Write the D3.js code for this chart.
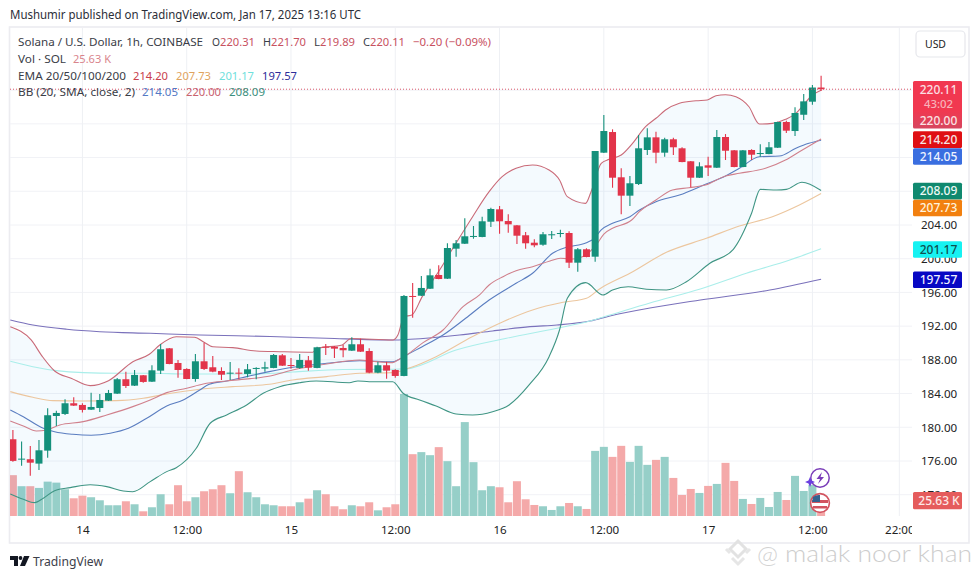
<!DOCTYPE html>
<html>
<head>
<meta charset="utf-8">
<script src="https://cdn.jsdelivr.net/npm/d3@7/dist/d3.min.js"></script>
<style>
html,body{margin:0;padding:0;background:#fff;overflow:hidden}
svg{display:block}
text{font-family:"Noto Sans",sans-serif}
</style>
</head>
<body>
<svg id="c" width="980" height="579"></svg>
<script>
// ---------- data ----------
const opens = [178.58,176.16,176.21,175.69,177.23,181.34,181.58,182.85,182.65,182.09,
182.29,183.16,183.99,185.70,184.94,186.17,185.41,186.72,189.37,187.63,
186.92,185.73,187.83,187.12,186.68,186.41,186.48,186.33,186.96,186.96,
187.04,188.54,187.39,187.04,187.95,187.04,189.56,189.56,189.41,189.09,
189.85,189.05,186.48,187.36,186.80,186.09,195.58,195.61,196.44,198.07,
197.63,201.19,201.78,202.58,202.58,204.39,205.86,204.47,203.96,202.78,
201.90,201.66,202.81,202.97,203.05,199.53,201.12,200.24,212.58,215.03,
209.66,207.48,208.86,212.90,214.40,212.58,214.17,213.10,211.56,209.61,
211.08,210.80,214.44,212.86,210.88,212.90,212.46,212.42,213.17,216.22,
215.15,217.08,218.63,220.31];
const highs = [179.68,178.30,177.78,178.50,182.26,181.97,183.32,183.56,182.85,184.11,
183.95,184.43,185.85,186.60,186.80,186.21,187.36,189.88,189.41,187.99,
187.00,188.70,190.04,188.46,187.12,187.75,187.00,187.51,187.12,187.78,
188.70,188.70,188.22,188.70,188.46,189.56,189.88,189.65,189.80,190.68,
190.51,189.37,187.78,187.78,186.88,195.70,197.12,197.95,198.82,199.22,
201.83,202.22,204.79,203.88,204.98,206.05,206.25,205.27,204.00,203.17,
202.30,203.17,203.29,203.44,203.25,201.27,201.24,212.78,217.05,215.35,
210.73,209.81,214.68,215.47,215.07,214.36,214.36,213.22,211.59,211.44,
212.10,215.27,214.79,212.90,212.90,212.98,213.57,213.85,216.25,216.37,
217.96,219.54,220.61,221.70];
const lows = [175.90,175.45,174.26,174.94,176.40,180.16,181.46,182.53,181.74,182.06,
181.82,183.12,183.95,184.66,184.90,185.29,185.38,186.33,187.48,185.89,
185.70,185.41,186.80,186.53,185.61,185.61,185.70,185.93,185.70,186.60,
187.00,187.27,186.95,186.95,186.72,187.00,188.58,188.22,188.31,189.05,
188.94,186.41,186.41,185.77,185.89,186.05,193.00,195.58,196.41,197.56,
197.59,200.24,201.75,202.37,202.54,203.76,202.97,203.09,201.75,201.19,
201.35,201.54,202.34,202.54,198.90,198.46,200.17,199.65,212.54,208.42,
205.27,206.25,208.74,212.30,211.32,212.10,212.30,211.44,208.47,209.57,
209.81,210.76,211.71,210.84,210.84,211.71,212.10,212.39,213.13,214.91,
214.56,216.46,218.27,219.89];
const closes = [176.01,176.28,175.80,177.27,181.43,181.70,182.85,182.57,182.06,182.41,
183.24,184.07,185.70,184.90,186.21,185.38,186.76,189.26,187.51,186.80,
185.73,187.83,186.92,186.60,186.24,186.48,186.41,186.88,187.04,187.12,
188.58,187.31,187.27,187.99,187.07,189.49,189.45,189.33,189.14,189.85,
188.97,186.48,187.36,186.72,186.09,195.58,195.50,196.53,198.03,197.59,
201.27,201.83,202.66,202.70,204.44,205.90,204.44,204.08,202.73,201.83,
201.59,202.90,202.90,203.05,199.53,201.12,200.20,212.78,215.15,209.61,
207.48,208.95,213.10,214.40,212.58,214.17,213.22,211.47,209.61,210.96,
210.80,214.44,212.81,210.88,212.86,212.34,212.54,213.22,216.22,215.19,
217.29,218.67,220.31,220.11];
const volumes = [69.6,50.8,50.8,47.9,58.6,56.9,45.6,30.2,34.7,32.0,
26.8,18.3,18.3,25.1,20.0,8.0,14.9,37.1,20.0,52.5,
25.1,32.0,42.2,45.6,52.5,38.8,76.4,40.5,32.0,20.0,
18.3,16.6,16.6,23.4,29.6,43.9,37.1,16.6,11.5,18.3,
16.6,23.4,9.7,14.9,20.0,208.0,105.4,108.9,103.7,117.4,
93.5,50.8,160.1,91.8,43.9,50.8,49.0,23.4,59.3,28.5,
18.8,16.6,10.3,16.6,22.2,16.6,12.0,111.0,117.9,100.8,
119.6,92.3,119.6,87.2,95.7,100.8,64.9,35.9,46.1,39.3,
51.3,54.7,90.6,59.8,29.1,20.5,30.8,15.4,41.0,27.3,
68.4,42.7,53.0,25.63];

// line series: [bar number, value]
const bbUpper = [[-0.3,191.94],[2.1,190.36],[3.4,188.38],[4.8,186.68],[6.7,185.82],[8.9,184.94],[11,185.53],[13.8,187.78],[15.7,188.66],[16.9,189.77],[18.8,190.75],[20.9,190.68],[22,190.09],[23,189.56],[25.3,189.45],[28,189.05],[30.7,188.97],[34.5,188.90],[35,189.37],[37.9,189.77],[38.9,190.54],[43.7,190.36],[44.3,190.95],[45,193.12],[45.9,193.32],[47.1,195.50],[49.1,198.66],[51,201.86],[52.9,204.98],[54.8,207.95],[56.3,209.73],[57.9,210.73],[59.8,211.12],[61.7,210.52],[62.9,209.34],[63.8,207.36],[65.9,206.57],[66.5,207.86],[67.7,211.32],[68.6,211.79],[70,212.30],[71.3,213.69],[72.8,215.66],[74,216.66],[75.1,217.64],[76.7,218.44],[78.6,218.74],[79.9,218.83],[80.9,219.34],[82,219.46],[83.2,219.22],[84.7,218.03],[85.9,215.98],[87.4,216.06],[88.9,216.54],[90.1,217.25],[90.8,218.03],[92,219.42],[93,220.00]];
const bbBasis = [[-0.3,182.06],[1.2,181.26],[3.5,179.88],[4.8,179.48],[6.9,179.17],[9,179.05],[11.2,179.29],[13.3,179.88],[15.4,181.07],[17.7,182.53],[19.6,183.24],[21.5,184.43],[22.6,185.10],[24.6,185.50],[26.9,186.01],[29.5,186.60],[32.2,187.12],[36.1,187.59],[39.9,187.90],[43.7,187.78],[44.3,187.99],[45.3,188.58],[47.1,189.56],[49.5,190.95],[52.1,192.93],[54.8,195.10],[57.9,197.08],[59.8,198.27],[62.1,200.64],[63.7,201.35],[66,201.90],[66.9,202.42],[67.7,203.41],[69,204.20],[71,204.98],[72.1,205.78],[74,206.76],[76.7,207.56],[79.7,208.83],[82,209.81],[83.6,210.73],[85.9,212.10],[88.2,212.18],[90.1,213.10],[91.6,213.69],[93,214.05]];
const bbLower = [[-0.3,172.09],[1.2,171.46],[2.5,171.06],[3.5,171.58],[4.8,172.48],[6.6,172.84],[8.9,173.19],[10.8,172.96],[12.7,172.45],[13.8,172.36],[15.8,173.55],[17.7,174.74],[18.8,175.21],[21.1,177.51],[22.7,180.48],[24.6,181.46],[26.9,182.65],[28.8,184.04],[30.7,184.82],[33,185.29],[34.9,185.50],[38.7,185.29],[39.7,185.50],[41,185.41],[43.7,185.41],[44.9,184.04],[46.8,183.24],[48.7,182.53],[51,181.58],[52.9,181.46],[55.2,181.85],[57.1,182.65],[59.4,185.02],[61.7,188.38],[62.9,191.54],[63.8,195.31],[65.9,197.16],[67.9,195.70],[69,196.29],[70.8,196.68],[72.9,196.37],[75.2,196.29],[77.5,197.27],[80.2,199.46],[82.9,201.12],[85,205.39],[86,208.23],[87.9,208.15],[89,208.23],[90.8,209.07],[93,208.09]];
const ema20 = [[-0.3,180.75],[1.2,180.16],[2.7,179.56],[3.9,179.68],[5.4,180.28],[8.1,180.67],[10.8,181.46],[13.8,182.45],[15.8,183.24],[17.7,184.11],[20,184.63],[21.9,185.14],[24.6,185.50],[27.3,185.77],[29.6,186.09],[32.2,186.80],[36.1,187.51],[39.9,187.99],[41.4,187.83],[43.7,187.67],[44.3,187.99],[45.3,188.58],[47.2,190.04],[49.5,191.54],[51.8,194.31],[53.7,195.70],[54.8,196.88],[56.4,197.87],[57.9,198.58],[59.8,199.05],[61.8,199.73],[63,200.05],[64.4,199.97],[65.9,200.44],[67.2,201.75],[68,202.93],[69,203.61],[71.2,204.59],[72.1,205.58],[74,206.97],[75.9,208.15],[77.8,208.42],[79.7,208.74],[82,209.81],[83.6,210.13],[86.6,210.73],[88.9,211.71],[90.5,212.69],[93,214.20]];
const ema50 = [[-0.3,184.23],[2.3,183.56],[4.6,183.16],[8.1,183.12],[11.9,183.16],[15,183.44],[17.7,183.95],[21.5,184.51],[25.3,184.82],[29.5,185.10],[32.2,185.61],[36.1,186.01],[39.9,186.41],[43.7,186.48],[45.7,187.06],[48.7,188.38],[52.9,190.77],[56.4,192.53],[59.8,193.92],[63.3,194.83],[66,195.31],[67.5,196.41],[71,198.27],[75.2,200.76],[79.8,202.42],[83.6,203.88],[87.4,204.98],[90.5,206.37],[93,207.73]];
const ema100 = [[-0.3,187.83],[2.3,187.19],[5,186.72],[8.1,186.48],[11.9,186.41],[15.8,186.41],[20,186.33],[28.4,186.33],[32.2,186.56],[38,186.86],[43.7,186.88],[45.3,186.94],[51,189.17],[56.8,190.56],[62.6,191.75],[66.4,192.61],[68.7,193.32],[73.3,194.75],[79.1,196.41],[84.4,198.27],[89.4,199.85],[93,201.17]];
const ema200 = [[-0.3,192.73],[2.3,192.14],[6.2,191.63],[10,191.34],[15.8,191.15],[21.5,190.95],[29.6,190.77],[36.1,190.56],[43.7,190.36],[45.7,190.44],[51.4,190.95],[55.2,191.43],[59.5,191.94],[62.6,192.14],[66.4,192.61],[68.7,193.21],[73.3,194.15],[79.1,195.10],[87.1,196.29],[93,197.57]];

const priceTicks = [172,176,180,184,188,192,196,200,204,208,212,216,220];
const timeTickBars = [8,20,32,44,56,68,80,92,102];
const timeTickLabels = ["14","12:00","15","12:00","16","12:00","17","12:00","22:00"];

const tagValues = [214.20,214.05,208.09,207.73,201.17,197.57];
const tagFills  = ["#df0f13","#3a6ee0","#10896f","#f2800f","#16f2f2","#0808c4"];
const tagInks   = ["#f5e6e6","#eef3ff","#eefaf6","#fff3dd","#10504f","#f0f0ff"];

// ---------- scales ----------
const svg = d3.select("#c");
const x = d3.scaleLinear().domain([0,93]).range([12.9,821.1]);
const y = d3.scaleLinear().domain([176,204]).range([461,225]);
const yVol = d3.scaleLinear().domain([0,208]).range([516,394]);
const UP="#14907b", DOWN="#e2344a", UPV="#96cfc8", DOWNV="#f4a9a9";

const defs = svg.append("defs");
defs.append("clipPath").attr("id","pane").append("rect").attr("x",10).attr("y",28).attr("width",902).attr("height",488);
defs.append("clipPath").attr("id","time").append("rect").attr("x",10).attr("y",516).attr("width",902).attr("height",26);

// frame
svg.append("rect").attr("x",9.5).attr("y",27).attr("width",959.5).attr("height",516)
   .attr("fill","#fff").attr("stroke","#ececf0").attr("stroke-width",1.6);

// grid
const pane = svg.append("g").attr("clip-path","url(#pane)");
pane.append("g").selectAll("line").data(priceTicks).join("line")
  .attr("x1",10).attr("x2",912).attr("y1",d=>y(d)).attr("y2",d=>y(d))
  .attr("stroke","#f1f2f6").attr("stroke-width",1);
pane.append("g").selectAll("line").data(timeTickBars).join("line")
  .attr("x1",d=>x(d)).attr("x2",d=>x(d)).attr("y1",28).attr("y2",516)
  .attr("stroke","#eef0f4").attr("stroke-width",1);

// volume
const bars = d3.range(opens.length);
const isUp = i => closes[i] >= opens[i];
pane.append("g").selectAll("rect").data(bars).join("rect")
  .attr("x",i=>x(i)-4).attr("width",8)
  .attr("y",i=>yVol(volumes[i])).attr("height",i=>yVol(0)-yVol(volumes[i]))
  .attr("fill",i=>isUp(i)?UPV:DOWNV);

// Bollinger fill
const pt = d3.line().x(d=>x(d[0])).y(d=>y(d[1]));
const smooth = d3.line().x(d=>x(d[0])).y(d=>y(d[1])).curve(d3.curveMonotoneX);
pane.append("path")
  .attr("d", pt(bbUpper.concat(bbLower.slice().reverse()))+"Z")
  .attr("fill","#2aa0ee").attr("fill-opacity",0.05);

// lines
[[ema200,"#7a71bb"],[ema100,"#aaeeea"],[ema50,"#ecc69e"],[bbLower,"#3f9584"],[bbBasis,"#5a7dc0"],[ema20,"#d0808c"],[bbUpper,"#c96a78"]]
 .forEach(([s,c])=>{
   pane.append("path").attr("d",smooth(s)).attr("fill","none").attr("stroke",c).attr("stroke-width",1.1);
 });

// candles
const cg = pane.append("g");
cg.selectAll("line").data(bars).join("line")
  .attr("x1",i=>x(i)).attr("x2",i=>x(i))
  .attr("y1",i=>y(highs[i])).attr("y2",i=>y(lows[i]))
  .attr("stroke",i=>isUp(i)?UP:DOWN).attr("stroke-width",1.1);
cg.selectAll("rect").data(bars).join("rect")
  .attr("x",i=>x(i)-3.5).attr("width",7)
  .attr("y",i=>Math.min(y(opens[i]),y(closes[i])))
  .attr("height",i=>Math.max(1,Math.abs(y(opens[i])-y(closes[i]))))
  .attr("fill",i=>isUp(i)?UP:DOWN);

// last price dotted line
const lastClose = closes[closes.length-1];
pane.append("line").attr("x1",10).attr("x2",912).attr("y1",y(lastClose)).attr("y2",y(lastClose))
  .attr("stroke","#d9566a").attr("stroke-width",1).attr("stroke-dasharray","1 2");

// price axis labels
const yAxis = d3.axisRight(y).tickValues(priceTicks.filter(v=>v<=204)).tickSize(0).tickPadding(0).tickFormat(d3.format(".2f"));
const yg = svg.append("g").attr("transform","translate(939,0)").call(yAxis);
yg.select(".domain").remove();
yg.selectAll("text").attr("text-anchor","middle").attr("font-size",11.6).attr("fill","#222")
  .style("font-family",'"Noto Sans",sans-serif');

// time axis
const xAxis = d3.axisBottom(x).tickValues(timeTickBars).tickSize(0).tickPadding(0)
  .tickFormat((d,i)=>timeTickLabels[i]);
const tg = svg.append("g").attr("clip-path","url(#time)").append("g").attr("transform","translate(0,526)").call(xAxis);
tg.select(".domain").remove();
tg.selectAll("text").attr("font-size",11.6).attr("fill","#222")
  .style("font-family",'"Noto Sans",sans-serif');

// helper for fitted text
function T(s,px,py,w,fill,size){
  const t = svg.append("text").attr("x",px).attr("y",py).attr("font-size",size||11.4).attr("fill",fill||"#2a2e39").text(s);
  if(w) t.attr("textLength",w).attr("lengthAdjust","spacingAndGlyphs");
  return t;
}
const INK="#3a3d47", R1="#c8515f";
T("Mushumir published on TradingView.com, Jan 17, 2025 13:16 UTC",10,19,351,"#2b2e38",11.8);
T("Solana / U.S. Dollar, 1h, COINBASE",18,46,185,INK);
T("O",212,46,8,INK); T("220.31",220,46,35,R1);
T("H",263,46,8,INK); T("221.70",271,46,35,R1);
T("L",314,46,6,INK); T("219.89",320,46,35,R1);
T("C",363,46,7,INK); T("220.11",370,46,35,R1);
T("−0.20 (−0.09%)",413,46,78,R1);
T("Vol · SOL",18,63,48,INK); T("25.63 K",73,63,38,"#d9848c");
T("EMA 20/50/100/200",18,80,108,INK);
T("214.20",133,80,35,"#c8404c"); T("207.73",176,80,35,"#dfa35e"); T("201.17",219,80,35,"#6fe0dc"); T("197.57",262,80,35,"#2c2c9a");
T("BB (20, SMA, close, 2)",18,96,117,INK);
T("214.05",142,96,36,"#5479c4"); T("220.00",186,96,35,"#c8626f"); T("208.09",229,96,36,"#3b8f7e");

// USD button
svg.append("rect").attr("x",916).attr("y",31).attr("width",49).attr("height",26).attr("rx",4)
   .attr("fill","#fff").attr("stroke","#e6e7ec").attr("stroke-width",1.2);
T("USD",925,48,21,"#222",11.6);

// right tags
function tag(top,h,bg){svg.append("rect").attr("x",913).attr("y",top).attr("width",49).attr("height",h).attr("rx",1.5).attr("fill",bg);}
function tagText(s,cy,fg,size){
  svg.append("text").attr("x",938.5).attr("y",cy+4.1).attr("text-anchor","middle").attr("font-size",size||12)
    .attr("font-weight",500).attr("fill",fg).text(s);
}
const grad = defs.append("linearGradient").attr("id","tg").attr("x1",0).attr("x2",0).attr("y1",0).attr("y2",1);
grad.append("stop").attr("offset","0.62").attr("stop-color","#f13850");
grad.append("stop").attr("offset","1").attr("stop-color","#d6465f");
tag(81,47.5,"url(#tg)");
tagText(lastClose.toFixed(2),90,"#fbdfe2");
tagText("43:02",103.8,"#f7b3ba",11.4);
tagText(bbUpper[bbUpper.length-1][1].toFixed(2),120.5,"#fbe2e4");
let prevCentre = -Infinity;
tagValues.forEach((v,i)=>{
  const cy = Math.max(y(v)+0.6, prevCentre+16.9);
  prevCentre = cy;
  tag(cy-8.3,16.6,tagFills[i]);
  tagText(v.toFixed(2),cy,tagInks[i]);
});
tag(492,17.3,"#e55c5c");
svg.append("text").attr("x",939).attr("y",505).attr("text-anchor","middle").attr("font-size",12).attr("font-weight",500).attr("fill","#fde9e7").text("25.63 K");

// event icons
const ic = svg.append("g");
ic.append("circle").attr("cx",820).attr("cy",478).attr("r",9.2).attr("fill","#fff").attr("stroke","#7a3db8").attr("stroke-width",1.5);
ic.append("path").attr("d","M822 472 L816.5 479 L820 479 L818 484 L824 477 L820.5 477 Z").attr("fill","#7a3db8");
ic.append("path").attr("d","M810 477 L811.5 480.5 L815 482 L811.5 483.5 L810 487 L808.5 483.5 L805 482 L808.5 480.5 Z").attr("fill","#6a3fe0");
ic.append("circle").attr("cx",820).attr("cy",503).attr("r",9.4).attr("fill","#fff").attr("stroke","#d25460").attr("stroke-width",1.6);
ic.append("path").attr("d","M812 500 H828 V503 H812 Z M813 506 H827 V508.5 H813 Z").attr("fill","#d25460");
ic.append("path").attr("d","M813 497 A9 9 0 0 1 820 495 V502 H812 Z").attr("fill","#33628f");

// TradingView logo
const lg = svg.append("g").attr("fill","#131722");
lg.append("path").attr("d","M10 556 H18 V566 H14 V560 H10 Z");
lg.append("circle").attr("cx",20.5).attr("cy",558).attr("r",1.9);
lg.append("path").attr("d","M24 556 H29.5 L25 566 H20 Z");
T("TradingView",33,566,70,"#3d404a",13);

// watermark
const wm = svg.append("g").attr("fill","none").attr("stroke","#e2e2e2").attr("stroke-width",3);
wm.append("path").attr("d","M738 541 L746 549 L738 557 L730 549 Z");
wm.append("path").attr("d","M726 549 L730 553 M750 549 L746 553 M732 558 L738 564 L744 558").attr("stroke","#e6e6e6");
T("@",757,563,21,"#d2d2d2",23).style("font-family","Lato").style("font-weight",300);
T("malak noor khan",785,562,187,"#cdcdcd",24).style("font-family","Lato").style("font-weight",300);
</script>
</body>
</html>
